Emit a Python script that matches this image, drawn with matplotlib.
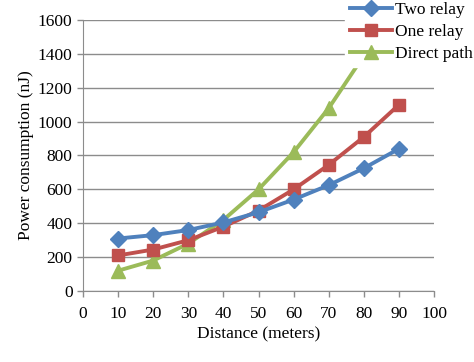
import matplotlib.pyplot as plt
import numpy as np

plt.rcParams['font.family'] = ['Liberation Serif', 'DejaVu Serif']

distance = [10, 20, 30, 40, 50, 60, 70, 80, 90]
two_relay = [310, 330, 360, 405, 465, 540, 625, 725, 840]
one_relay = [210, 245, 300, 380, 475, 600, 745, 910, 1100]
direct_path = [120, 180, 280, 420, 600, 820, 1080, 1390, 1750]

fig = plt.figure(figsize=(4.74, 3.62), dpi=100)
ax = fig.add_axes([0.175, 0.196, 0.741, 0.749])

ax.plot(distance, two_relay, color='#4F81BD', lw=2.8, marker='D', ms=8, label='Two relay', zorder=5)
ax.plot(distance, one_relay, color='#C0504D', lw=2.8, marker='s', ms=8, label='One relay', zorder=4)
ax.plot(distance, direct_path, color='#9BBB59', lw=2.8, marker='^', ms=10, label='Direct path', zorder=3)

ax.set_xlim(0, 100)
ax.set_ylim(0, 1600)
ax.set_xticks(np.arange(0, 101, 10))
ax.set_yticks(np.arange(0, 1601, 200))
ax.yaxis.grid(True, color='#8c8c8c', lw=1)
ax.set_axisbelow(True)
for s in ['top', 'right']:
    ax.spines[s].set_visible(False)
for s in ['left', 'bottom']:
    ax.spines[s].set_color('#8c8c8c')
ax.tick_params(colors='#8c8c8c', labelcolor='black', labelsize=12.5, length=4, width=1)
ax.tick_params(axis='x', pad=7)
ax.set_xlabel('Distance (meters)', fontsize=12.5, labelpad=3)
ax.set_ylabel('Power consumption (nJ)', fontsize=12.5, labelpad=3)

leg = fig.legend(loc='upper left', bbox_to_anchor=(0.728, 1.01), fontsize=12.5,
                 frameon=True, facecolor='white', edgecolor='white', framealpha=1,
                 handlelength=2.4, handletextpad=0.2, labelspacing=0.35, borderpad=0.3,
                 borderaxespad=0)
leg.set_zorder(10)

fig.savefig('out.png', dpi=100)
